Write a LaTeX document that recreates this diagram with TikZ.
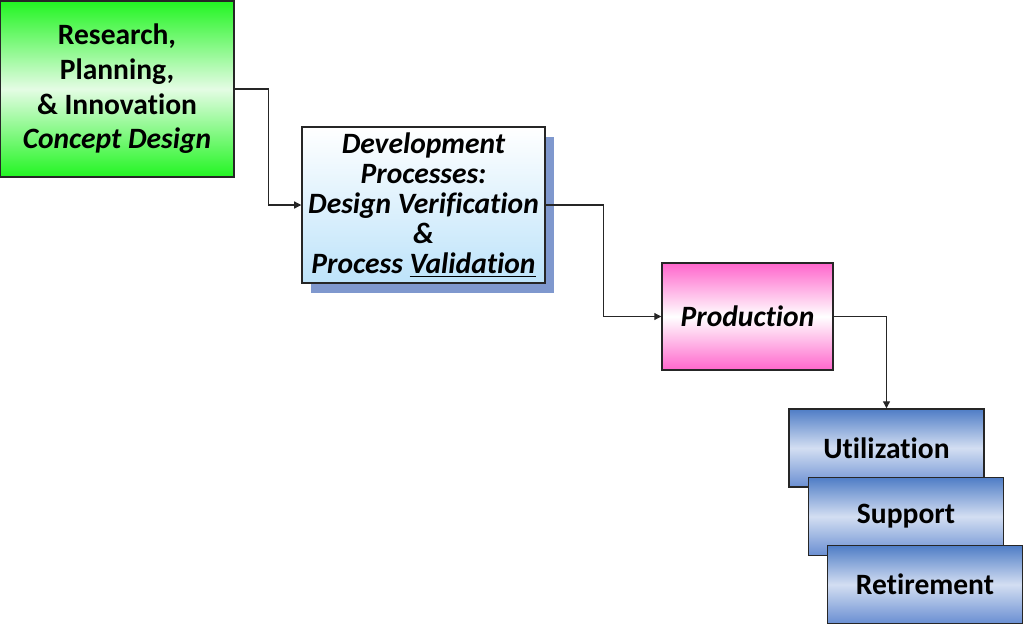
\documentclass[tikz,border=0pt]{standalone}
\usepackage{fontspec}
\setmainfont{Carlito}[Ligatures=NoCommon]
\usetikzlibrary{arrows.meta,shadows}

\begin{document}
\begin{tikzpicture}[x=0.025cm, y=-0.025cm]

% Colori
\definecolor{colGreen}{HTML}{22F522}
\definecolor{colGreenLt}{HTML}{E4FCE4}
\definecolor{colDev}{HTML}{BDE3FA}
\definecolor{colShadow}{HTML}{7F98CE}
\definecolor{colPink}{HTML}{FF66CC}
\definecolor{colBlueDk}{HTML}{4F7DC6}
\definecolor{colBlueLt}{HTML}{D3DEF2}
\definecolor{colBlueMd}{HTML}{6A8FD2}

\tikzset{
  phasebox/.style={draw=black!85, line width=1pt, align=center, inner sep=2pt,
    font=\fontsize{21}{25}\selectfont\bfseries},
  lifebox/.style={phasebox, top color=colBlueDk, bottom color=colBlueMd, middle color=colBlueLt,
    minimum width=4.875cm, minimum height=1.95cm},
  flow/.style={black!85, line width=0.8pt, -{Triangle[length=5pt,width=5pt]}}
}

% Margini
\useasboundingbox (0,0) rectangle (1024,625);

% Fasi
\node[phasebox, top color=colGreen, bottom color=colGreen, middle color=colGreenLt,
  minimum width=5.85cm, minimum height=4.4cm, font=\fontsize{21}{24.6}\selectfont\bfseries]
  (research) at (117,89) {Research,\\ Planning,\\ \& Innovation\\ \itshape Concept Design};

\node[phasebox, top color=white, bottom color=colDev, minimum width=6.075cm, minimum height=3.9cm,
  font=\fontsize{21}{21.3}\selectfont\bfseries\itshape,
  drop shadow={shadow xshift=0.23cm, shadow yshift=-0.25cm, fill=colShadow, opacity=1}]
  (dev) at (423.5,205) {Development\\ Processes:\\ Design Verification\\ \&\\ Process \underline{Validation}};

\node[phasebox, top color=colPink, bottom color=colPink, middle color=white,
  minimum width=4.275cm, minimum height=2.675cm, font=\fontsize{21}{24}\selectfont\bfseries\itshape]
  (prod) at (747.5,316.5) {Production};

% Ciclo di vita
\node[lifebox] (util) at (886.5,448) {Utilization};
\node[lifebox] (support) at (906,516.5) {Support};
\node[lifebox] (retire) at (925,584.5) {Retirement};

% Connettori
\draw[flow] (research.east) -- ++(34,0) |- (dev.west);
\draw[flow] (dev.east) -- ++(58,0) |- (prod.west);
\draw[flow] (prod.east) -| (util.north);

\end{tikzpicture}
\end{document}
